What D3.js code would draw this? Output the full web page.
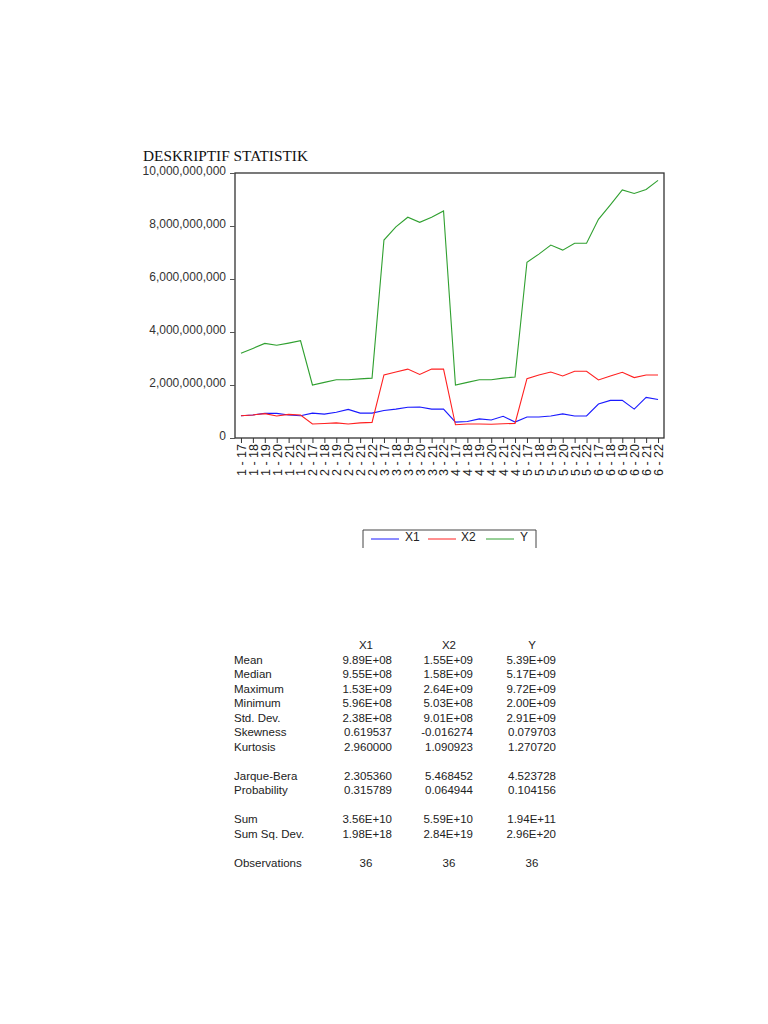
<!DOCTYPE html>
<html><head><meta charset="utf-8">
<script src="https://cdn.jsdelivr.net/npm/d3@7"></script>
<style>
html,body{margin:0;padding:0;background:#fff;}
svg text{font-family:"Liberation Sans",Arial,sans-serif;}
</style></head>
<body>
<svg id="c" width="768" height="1024"></svg>
<script>
const periods = ["1","2","3","4","5","6"];
const subs = ["17","18","19","20","21","22"];
const categories = periods.flatMap(p => subs.map(s => p + " - " + s));

const X1 = [0.84,0.87,0.93,0.93,0.87,0.84, 0.94,0.90,0.97,1.08,0.94,0.94,
            1.04,1.09,1.16,1.17,1.09,1.09, 0.60,0.62,0.72,0.68,0.82,0.60,
            0.79,0.79,0.83,0.91,0.83,0.83, 1.28,1.42,1.42,1.09,1.53,1.45].map(v=>v*1e9);
const X2 = [0.84,0.87,0.92,0.83,0.89,0.87, 0.53,0.55,0.57,0.53,0.57,0.59,
            2.38,2.49,2.60,2.40,2.60,2.60, 0.50,0.53,0.53,0.52,0.54,0.55,
            2.24,2.38,2.49,2.34,2.52,2.52, 2.19,2.34,2.48,2.28,2.38,2.38].map(v=>v*1e9);
const Y  = [3.20,3.38,3.57,3.50,3.58,3.67, 2.00,2.10,2.20,2.20,2.23,2.26,
            7.47,7.97,8.33,8.14,8.33,8.57, 2.00,2.10,2.20,2.20,2.26,2.30,
            6.63,6.94,7.28,7.09,7.35,7.35, 8.25,8.80,9.36,9.23,9.38,9.72].map(v=>v*1e9);

const yTicks = [0, 2e9, 4e9, 6e9, 8e9, 10e9];
const seriesNames = ["X1","X2","Y"];
const seriesColors = ["#1a1aff","#ff2020","#30a030"];

const statRows = ["Mean","Median","Maximum","Minimum","Std. Dev.","Skewness","Kurtosis","","Jarque-Bera","Probability","","Sum","Sum Sq. Dev.","","Observations"];
const statX1 = ["9.89E+08","9.55E+08","1.53E+09","5.96E+08","2.38E+08","0.619537","2.960000","","2.305360","0.315789","","3.56E+10","1.98E+18","","36"];
const statX2 = ["1.55E+09","1.58E+09","2.64E+09","5.03E+08","9.01E+08","-0.016274","1.090923","","5.468452","0.064944","","5.59E+10","2.84E+19","","36"];
const statY  = ["5.39E+09","5.17E+09","9.72E+09","2.00E+09","2.91E+09","0.079703","1.270720","","4.523728","0.104156","","1.94E+11","2.96E+20","","36"];

const svg = d3.select("#c");
svg.append("rect").attr("width",768).attr("height",1024).attr("fill","#fff");

// title
svg.append("text").attr("x",143).attr("y",161)
  .style("font-family",'"Liberation Serif","Times New Roman",serif')
  .style("font-size","15.3px").attr("fill","#111").text("DESKRIPTIF STATISTIK");

const L=235, R=664, T=173, B=438;
const x = d3.scalePoint().domain(categories).range([L,R]).padding(0.5);
const y = d3.scaleLinear().domain([0,10e9]).range([B,T]);

// frame
svg.append("rect").attr("x",L).attr("y",T).attr("width",R-L).attr("height",B-T)
  .attr("fill","none").attr("stroke","#333").attr("stroke-width",1.3);

// y axis
const yAxis = d3.axisLeft(y).tickValues(yTicks).tickSize(5).tickPadding(4)
  .tickFormat(d => d===0 ? "0" : d3.format(",")(d));
const gy = svg.append("g").attr("transform",`translate(${L},0)`).call(yAxis);
gy.select(".domain").remove();
gy.selectAll("line").attr("stroke","#555");
gy.selectAll("text").style("font-size","12px").attr("fill","#333").attr("dy","0.1em");

// x axis
const xAxis = d3.axisBottom(x).tickSize(5).tickPadding(3);
const gx = svg.append("g").attr("transform",`translate(0,${B})`).call(xAxis);
gx.select(".domain").remove();
gx.selectAll("line").attr("stroke","#333");
gx.selectAll("text").style("font-size","12.5px").attr("fill","#222")
  .attr("text-anchor","end").attr("transform","rotate(-90)")
  .attr("x",-6).attr("y",0).attr("dy","0.35em");

// lines
const line = d3.line().x((d,i)=>x(categories[i])).y(d=>y(d));
[X1,X2,Y].forEach((s,i)=>{
  svg.append("path").datum(s).attr("d",line).attr("fill","none")
    .attr("stroke",seriesColors[i]).attr("stroke-width",1.1);
});

// legend
const lg = svg.append("g");
lg.append("path").attr("d","M363,548 L363,530 L536,530 L536,548")
  .attr("fill","none").attr("stroke","#444").attr("stroke-width",1);
const legX = [371,428,486];
const legTX = [405,461,520];
seriesNames.forEach((n,i)=>{
  lg.append("line").attr("x1",legX[i]).attr("x2",legX[i]+28).attr("y1",539).attr("y2",539)
    .attr("stroke",seriesColors[i]).attr("stroke-width",1);
  lg.append("text").attr("x",legTX[i]).attr("y",541).style("font-size","12px").attr("fill","#222").text(n);
});

// statistics table
const tg = svg.append("g").style("font-size","11.5px").attr("fill","#222");
const colRight = [392,473,556];
const colCenter = [366,449,532];
seriesNames.forEach((n,i)=>{
  tg.append("text").attr("x",colCenter[i]).attr("y",649).attr("text-anchor","middle").text(n);
});
const rowY0 = 663.5, rowStep = 14.5;
const cols = [statX1,statX2,statY];
statRows.forEach((r,k)=>{
  if(!r) return;
  const yy = rowY0 + k*rowStep;
  tg.append("text").attr("x",234).attr("y",yy).text(r);
  cols.forEach((c,i)=>{
    const isObs = r==="Observations";
    tg.append("text").attr("x",isObs?colCenter[i]:colRight[i]).attr("y",yy)
      .attr("text-anchor",isObs?"middle":"end").text(c[k]);
  });
});
</script>
</body></html>
